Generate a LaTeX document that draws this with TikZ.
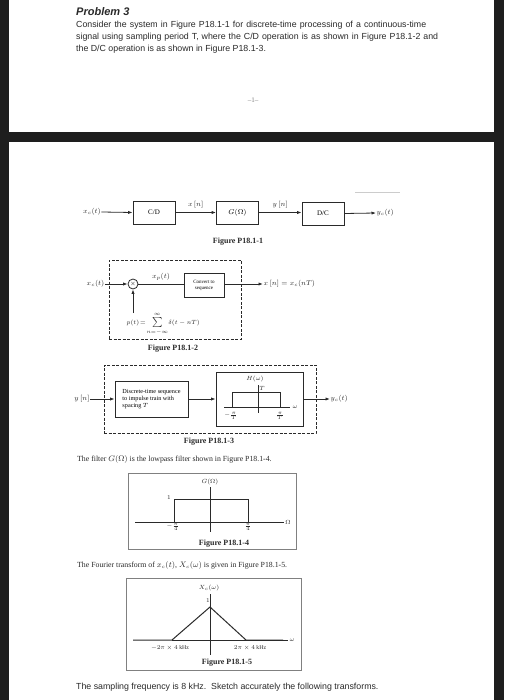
\documentclass[tikz,border=0pt]{standalone}
\usepackage{fontspec}
\setmainfont{Liberation Serif}
\setsansfont{Liberation Sans}
\usetikzlibrary{arrows.meta}
\definecolor{darkbg}{HTML}{1E1E1E}
\definecolor{ink}{HTML}{2A2A2A}
\begin{document}
\begin{tikzpicture}[x=1pt, y=-1pt,
  blk/.style={draw=ink, thick, minimum width=42pt, minimum height=23pt, inner sep=1pt, font=\fontsize{7}{8}\selectfont},
  lbl/.style={inner sep=0.5pt, text=ink, font=\fontsize{7}{8}\selectfont},
  small/.style={inner sep=0.5pt, text=ink, font=\fontsize{5.8}{6.5}\selectfont},
  figcap/.style={inner sep=0pt, text=ink, font=\bfseries\fontsize{8}{9}\selectfont},
  para/.style={anchor=west, inner sep=0pt, text=ink, font=\sffamily\fontsize{8.8}{10}\selectfont},
  bodytext/.style={anchor=west, inner sep=0pt, text=ink, font=\fontsize{7.8}{9}\selectfont},
  sig/.style={draw=ink, thick, -{Latex[length=4.5pt, width=3.2pt]}},
  dashbox/.style={draw=ink, thick, dash pattern=on 3pt off 1.5pt},
  spec/.style={draw=ink, line width=1pt},
  axis/.style={draw=ink, semithick}
]
  \useasboundingbox (0,0) rectangle (504,700);
  % screen frame and the two pages
  \fill[darkbg] (0,0) rectangle (504,700);
  \fill[white] (9,0) rectangle (494,132);
  \fill[white] (9,142) rectangle (494,700);

  % Problem statement
  \node[para, font=\sffamily\bfseries\itshape\fontsize{11}{12}\selectfont] (title) at (76,12) {Problem 3};
  \node[para] (line1) at (76,25) {\makebox[350pt][s]{Consider the system in Figure P18.1-1 for discrete-time processing of a continuous-time}};
  \node[para] (line2) at (76,37) {\makebox[362pt][s]{signal using sampling period T, where the C/D operation is as shown in Figure P18.1-2 and}};
  \node[para] (line3) at (76,49) {the D/C operation is as shown in Figure P18.1-3.};
  \node[lbl, text=gray] (pageno) at (253,100) {--1--};

  % Figure P18.1-1
  \draw[gray!40, thin] (355,192) -- (400,192);
  \node[lbl] (xc) at (92,212) {$x_c(t)$};
  \node[blk] (cd) at (154,212.5) {C/D};
  \node[blk] (g) at (237.5,212.5) {$G(\Omega)$};
  \node[blk] (dc) at (323,213.5) {D/C};
  \node[lbl, anchor=west] (yc) at (376,213) {$y_c(t)$};
  \draw[sig] (xc.east) -- (cd.west);
  \draw[sig] (cd.east) -- node[lbl, above=3pt] (xn) {$x\,[n]$} (g.west);
  \draw[sig] (g.east) -- node[lbl, above=3pt] (yn) {$y\,[n]$} (dc.west |- g.east);
  \draw[sig] (dc.east) -- (yc.west);
  \node[figcap] (cap1) at (238,242) {Figure P18.1-1};

  % Figure P18.1-2
  \node[dashbox, minimum width=132pt, minimum height=79pt] (cdframe) at (175,299.5) {};
  \node[lbl] (xc2) at (95.5,284) {$x_c(t)$};
  \node[draw=ink, thick, circle, minimum size=10pt, inner sep=0pt, font=\fontsize{6}{7}\selectfont] (mult) at (133,284) {$\times$};
  \node[blk, minimum width=40pt, minimum height=24pt, font=\fontsize{5}{6}\selectfont, align=center] (conv) at (204,285) {Convert to\\sequence};
  \node[lbl, anchor=west] (xn2) at (263,284) {$x\,[n] = x_c(nT)$};
  \node[small, anchor=west] (pt) at (126,324) {$p(t)\!=\!\sum\limits_{n=-\infty}^{\infty}\!\delta(t-nT)$};
  \coordinate (pin) at (133,313);
  \draw[sig] (xc2.east) -- (mult.west);
  \draw[draw=ink, thick] (mult.east) -- node[lbl, above=3pt] (xp) {$x_p(t)$} (conv.west |- mult.east);
  \draw[sig] (conv.east |- mult.east) -- (xn2.west);
  \draw[sig] (pin) -- (mult.south);
  \node[figcap] (cap2) at (173,349) {Figure P18.1-2};

  % Figure P18.1-3
  \node[dashbox, minimum width=212pt, minimum height=68pt] (dcframe) at (210,399) {};
  \node[lbl] (yn3) at (82,399) {$y\,[n]$};
  \node[blk, minimum width=73pt, minimum height=36pt, font=\fontsize{6.2}{7}\selectfont, align=left] (imp) at (151.5,399) {Discrete-time sequence\\to impulse train with\\spacing $T$};
  \node[blk, minimum width=87pt, minimum height=54pt] (hbox) at (259.5,399) {};
  \node[lbl, anchor=west] (yc3) at (330,399) {$y_c(t)$};
  \draw[sig] (yn3.east) -- (imp.west);
  \draw[sig] (imp.east) -- (hbox.west);
  \draw[sig] (hbox.east) -- (yc3.west);
  % H(w) inside the box
  \draw[axis] (258,385) -- (258,413);
  \draw[axis] (224,407) -- (290,407);
  \draw[spec] (232,407) -- (232,392) -- (280,392) -- (280,407);
  \node[small] (hw) at (255,379) {$H(\omega)$};
  \node[small] (hT) at (262,388) {$T$};
  \node[small] (hom) at (295,407) {$\omega$};
  \node[small] (hlo) at (231,416) {$-\frac{\pi}{T}$};
  \node[small] (hhi) at (280,416) {$\frac{\pi}{T}$};
  \node[figcap] (cap3) at (209,442) {Figure P18.1-3};

  \node[bodytext] (txt4) at (77,459) {The filter $G(\Omega)$ is the lowpass filter shown in Figure P18.1-4.};

  % Figure P18.1-4
  \draw[gray, semithick] (128,473) rectangle (296,549);
  \draw[axis] (210,487) -- (210,532);
  \draw[axis] (174,522) -- (248,522);
  \draw[axis] (248,522) -- (284,522);
  \draw[spec] (135,522) -- (174,522) -- (174,499) -- (248,499) -- (248,522) -- (282,522);
  \node[small] (gl) at (210,482) {$G(\Omega)$};
  \node[small] (g1) at (169,498) {$1$};
  \node[small] (gom) at (288,522) {$\Omega$};
  \node[small] (glo) at (173,527) {$-\frac{\pi}{4}$};
  \node[small] (ghi) at (248,527) {$\frac{\pi}{4}$};
  \node[figcap] (cap4) at (224,544) {Figure P18.1-4};

  \node[bodytext] (txt5) at (77,565) {The Fourier transform of $x_c(t)$, $X_c(\omega)$ is given in Figure P18.1-5.};

  % Figure P18.1-5
  \draw[gray, semithick] (126,578) rectangle (301,670);
  \draw[axis] (210,594) -- (210,655);
  \draw[axis] (172,640) -- (288,640);
  \draw[spec] (133,640) -- (172,640) -- (210,607) -- (246,640) -- (283,640);
  \node[small] (xl) at (209,588) {$X_c(\omega)$};
  \node[small] (x1) at (208,601) {$1$};
  \node[small] (xom) at (292,640) {$\omega$};
  \node[small] (xlo) at (170,648) {$-2\pi\times 4$ kHz};
  \node[small] (xhi) at (250,648) {$2\pi\times 4$ kHz};
  \node[figcap] (cap5) at (227,663) {Figure P18.1-5};

  \node[para] (last) at (76,687) {The sampling frequency is 8 kHz.\ \ Sketch accurately the following transforms.};
\end{tikzpicture}
\end{document}
